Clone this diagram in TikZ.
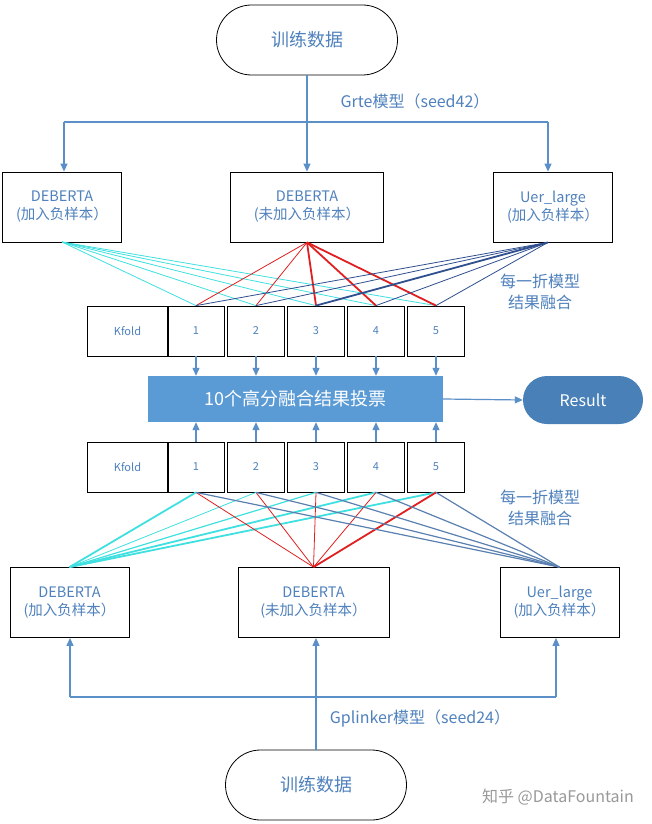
\documentclass[tikz,border=0pt]{standalone}
\usepackage{fontspec}
\setmainfont{Noto Sans CJK SC}
\usetikzlibrary{arrows.meta}
\definecolor{tx}{HTML}{4F81BD}
\definecolor{ar}{HTML}{5B8FC8}
\definecolor{cy}{HTML}{40E0E0}
\definecolor{rd}{HTML}{E02020}
\definecolor{db}{HTML}{2F4F8F}
\definecolor{mb}{HTML}{5A80B0}
\definecolor{barc}{HTML}{5B9BD5}
\definecolor{resc}{HTML}{4A80B8}
\begin{document}
\begin{tikzpicture}[x=1pt,y=-1pt,
 every node/.style={font=\fontsize{14.5}{18}\selectfont, text=tx, align=center},
 term/.style={draw=black, rounded corners=35pt, minimum width=181pt, minimum height=70pt, line width=0.8pt, font=\fontsize{18}{20}\selectfont},
 box/.style={draw=black, line width=0.8pt, minimum height=70pt},
 num/.style={draw=black, line width=0.8pt, minimum width=57pt, minimum height=50pt, font=\fontsize{11}{12}\selectfont},
 lab/.style={font=\fontsize{16}{21}\selectfont},
 arr/.style={draw=ar, line width=1.2pt, -{Triangle[length=8pt,width=7pt]}},
 ln/.style={line width=0.8pt}]
\useasboundingbox (0,0) rectangle (651,824);
\fill[white] (0,0) rectangle (651,824);
% top
\node[term] (t1) at (307,40) {训练数据};
\node[lab] (g1) at (415,101) {Grte模型（seed42）};
\node[box,minimum width=119pt] (a1) at (62,207) {DEBERTA\\(加入负样本）};
\node[box,minimum width=153pt] (b1) at (307,207) {DEBERTA\\(未加入负样本）};
\node[box,minimum width=119pt] (c1) at (553,207) {Uer\_large\\(加入负样本）};
\coordinate (ja) at (64,122); \coordinate (jc) at (548,122);
\draw[ar,line width=1.2pt] (ja) -- (jc);
\draw[arr] (ja) -- (ja|-a1.north);
\draw[arr] (jc) -- (jc|-c1.north);
\draw[arr] (t1.south) -- (b1.north);
% kfold top
\node[num,minimum width=81pt] (k1) at (127.5,331) {Kfold};
\foreach \i/\x in {1/196,2/256,3/316,4/376,5/436}{\node[num] (p\i) at (\x,331) {\i};}
\node[draw=none,fill=barc, minimum width=295pt, minimum height=46pt, text=white, font=\fontsize{18}{20}\selectfont] (bar) at (295.5,399) {10个高分融合结果投票};
\node[fill=resc, rounded corners=24pt, minimum width=120pt, minimum height=48pt, text=white, font=\fontsize{16}{19}\selectfont] (res) at (583,400) {Result};
\draw[arr] (bar.east) -- (res.west);
\foreach \i in {1,...,5}{\draw[arr] (p\i.south) -- (p\i|-bar.north);}
% top lines
\foreach \i in {1,...,5}{\draw[cy,ln] ([yshift=-35pt]a1.center) -- (p\i.north);}
\foreach \i/\w in {1/0.8,2/0.8,3/1.8,4/1.8,5/1.8}{\draw[rd,line width=\w pt] (b1.south) -- (p\i.north);}
\foreach \i/\w in {1/0.8,2/0.8,3/1.8,4/0.8,5/0.8}{\draw[db,line width=\w pt] ([xshift=-5pt]c1.south) -- (p\i.north);}
\node[lab] (m1) at (540,292) {每一折模型\\结果融合};
% bottom kfold
\node[num,minimum width=81pt] (k2) at (127.5,467) {Kfold};
\foreach \i/\x in {1/196,2/256,3/316,4/376,5/436}{\node[num] (q\i) at (\x,467) {\i};}
\foreach \i in {1,...,5}{\draw[arr] (q\i.north) -- (q\i|-bar.south);}
\node[box,minimum width=119pt] (a2) at (69.5,602.5) {DEBERTA\\(加入负样本）};
\node[box,minimum width=151pt] (b2) at (313.5,602.5) {DEBERTA\\(未加入负样本）};
\node[box,minimum width=119pt] (c2) at (559.5,602.5) {Uer\_large\\(加入负样本）};
\foreach \i/\w in {1/1.8,2/0.8,3/1.2,4/1.8,5/1.8}{\draw[cy,line width=\w pt] (a2.north) -- (q\i.south);}
\foreach \i/\w in {1/0.8,2/0.8,3/0.8,4/0.8,5/1.8}{\draw[rd,line width=\w pt] (b2.north) -- (q\i.south);}
\foreach \i in {1,...,5}{\draw[mb,line width=1.2pt] (c2.north) -- (q\i.south);}
\node[lab] (m2) at (540,508) {每一折模型\\结果融合};
% bottom
\node[term] (t2) at (316,785) {训练数据};
\node[lab] (g2) at (420,718) {Gplinker模型（seed24）};
\coordinate (la) at (70,697); \coordinate (lc) at (556,697);
\draw[ar,line width=1.2pt] (la) -- (lc);
\draw[arr] (la) -- (la|-a2.south);
\draw[arr] (lc) -- (lc|-c2.south);
\draw[arr] (t2.north) -- (t2.north|-b2.south);
\node[text=gray!80, font=\fontsize{16}{18}\selectfont] (wm) at (558,797) {知乎 @DataFountain};
\end{tikzpicture}
\end{document}
